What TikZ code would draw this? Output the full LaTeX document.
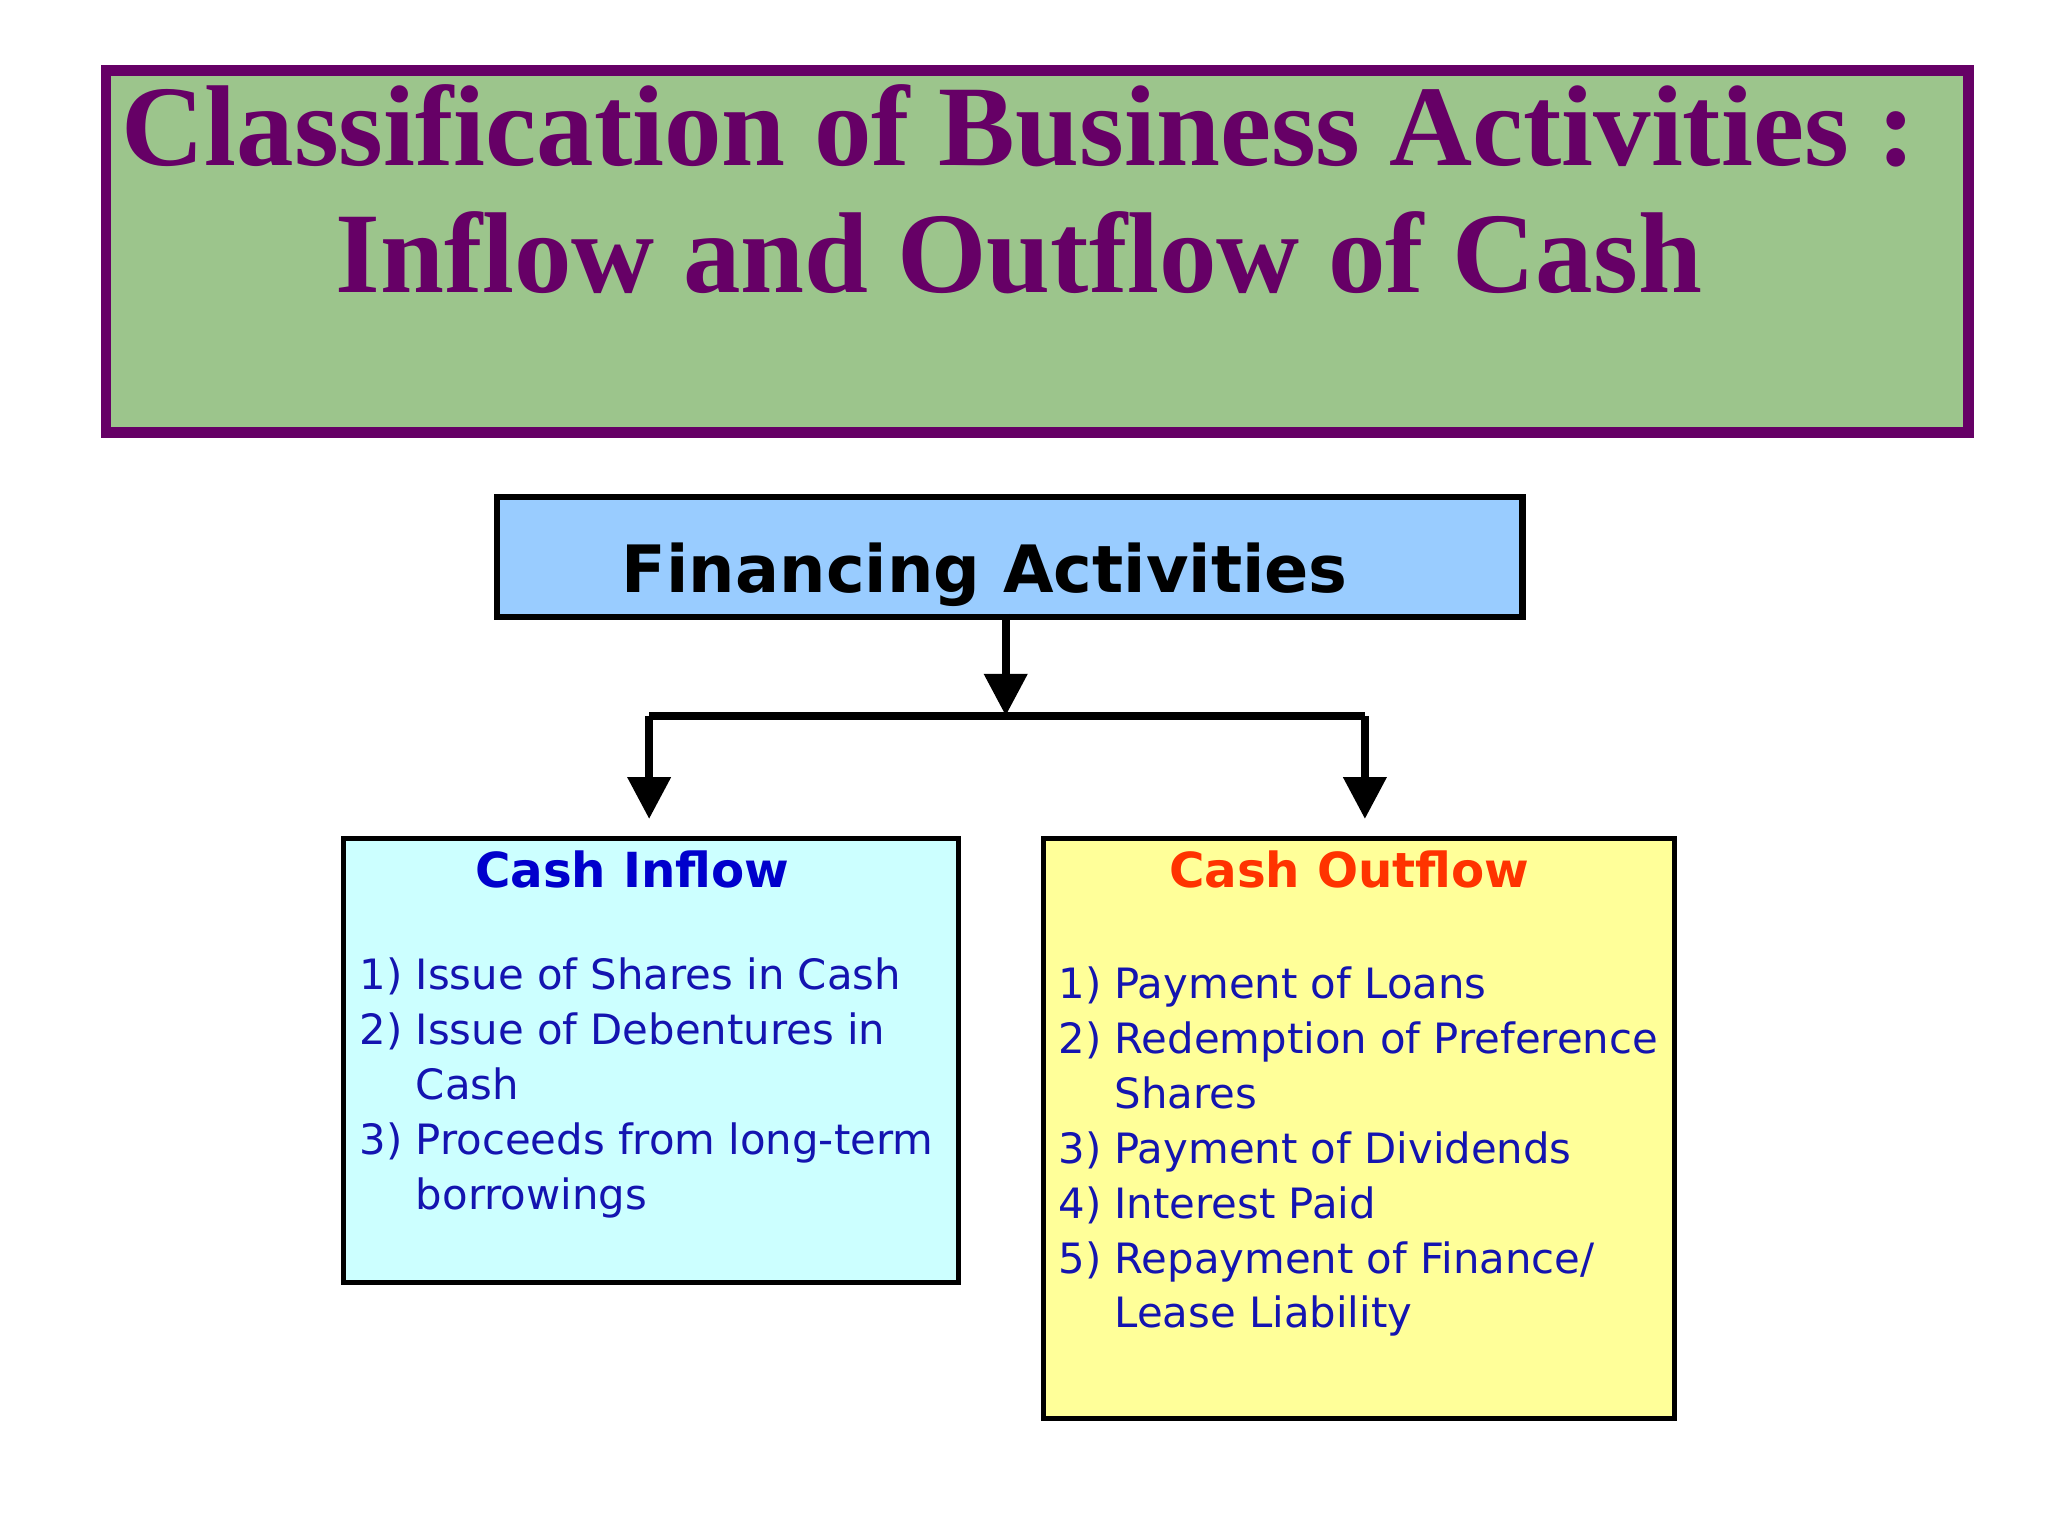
\documentclass[tikz,border=0pt]{standalone}
\usepackage{fontspec}
\setmainfont{DejaVu Sans}
\newfontfamily\titlefont{Liberation Serif}
\usetikzlibrary{arrows.meta}
\definecolor{titlegreen}{HTML}{9CC58C}
\definecolor{titlepurple}{HTML}{660066}
\definecolor{finblue}{HTML}{99CCFF}
\definecolor{incyan}{HTML}{CCFFFF}
\definecolor{outyellow}{HTML}{FFFF99}
\definecolor{itemblue}{HTML}{1414B0}
\definecolor{headblue}{HTML}{0000CC}
\definecolor{headred}{HTML}{FF3300}
\tikzset{
 conn/.style={line width=3pt,-{Triangle[length=16pt,width=16pt]}},
 itemtext/.style={anchor=north west,align=left,text=itemblue,font=\fontsize{16}{21}\selectfont,inner sep=0pt},
 headtext/.style={font=\bfseries\fontsize{18.5}{22}\selectfont}
}
\begin{document}
\begin{tikzpicture}[x=0.5pt,y=-0.5pt]
\useasboundingbox[fill=white] (0,0) rectangle (1568,1176);
\node[draw=titlepurple,line width=4pt,fill=titlegreen,minimum width=713pt,minimum height=138.5pt,anchor=north west] (title) at (77,50) {};
\node[text=titlepurple,font=\titlefont\bfseries\fontsize{44}{48.5}\selectfont,align=center,anchor=north] (tt) at (780,58) {Classification of Business Activities :\\Inflow and Outflow of Cash};
\node[draw,line width=2.5pt,fill=finblue,minimum width=392.5pt,minimum height=46pt,anchor=north west] (fin) at (378,378) {};
\node[font=\bfseries\fontsize{25}{30}\selectfont] (fint) at (754,440) {Financing Activities};
\coordinate (fbot) at (770,470);
\coordinate (jn) at (770,548);
\coordinate (jl) at (497,548);
\coordinate (jr) at (1045,548);
\coordinate (al) at (497,627);
\coordinate (ar) at (1045,627);
\draw[conn] (fbot) -- (jn);
\draw[line width=3pt] (jl) -- (jr);
\draw[conn] (jl) -- (al);
\draw[conn] (jr) -- (ar);
\node[draw,line width=1.8pt,fill=incyan,minimum width=235.5pt,minimum height=170pt,anchor=north west] (in) at (261,640) {};
\node[headtext,text=headblue] (inh) at (484,666) {Cash Inflow};
\node[itemtext] (inl) at (275,733) {1) Issue of Shares in Cash\\2) Issue of Debentures in\\\phantom{2) }Cash\\3) Proceeds from long-term\\\phantom{3) }borrowings};
\node[draw,line width=1.8pt,fill=outyellow,minimum width=241.5pt,minimum height=222pt,anchor=north west] (out) at (797,640) {};
\node[headtext,text=headred] (outh) at (1033,666) {Cash Outflow};
\node[itemtext] (outl) at (810,740) {1) Payment of Loans\\2) Redemption of Preference\\\phantom{2) }Shares\\3) Payment of Dividends\\4) Interest Paid\\5) Repayment of Finance/\\\phantom{5) }Lease Liability};
\end{tikzpicture}
\end{document}
